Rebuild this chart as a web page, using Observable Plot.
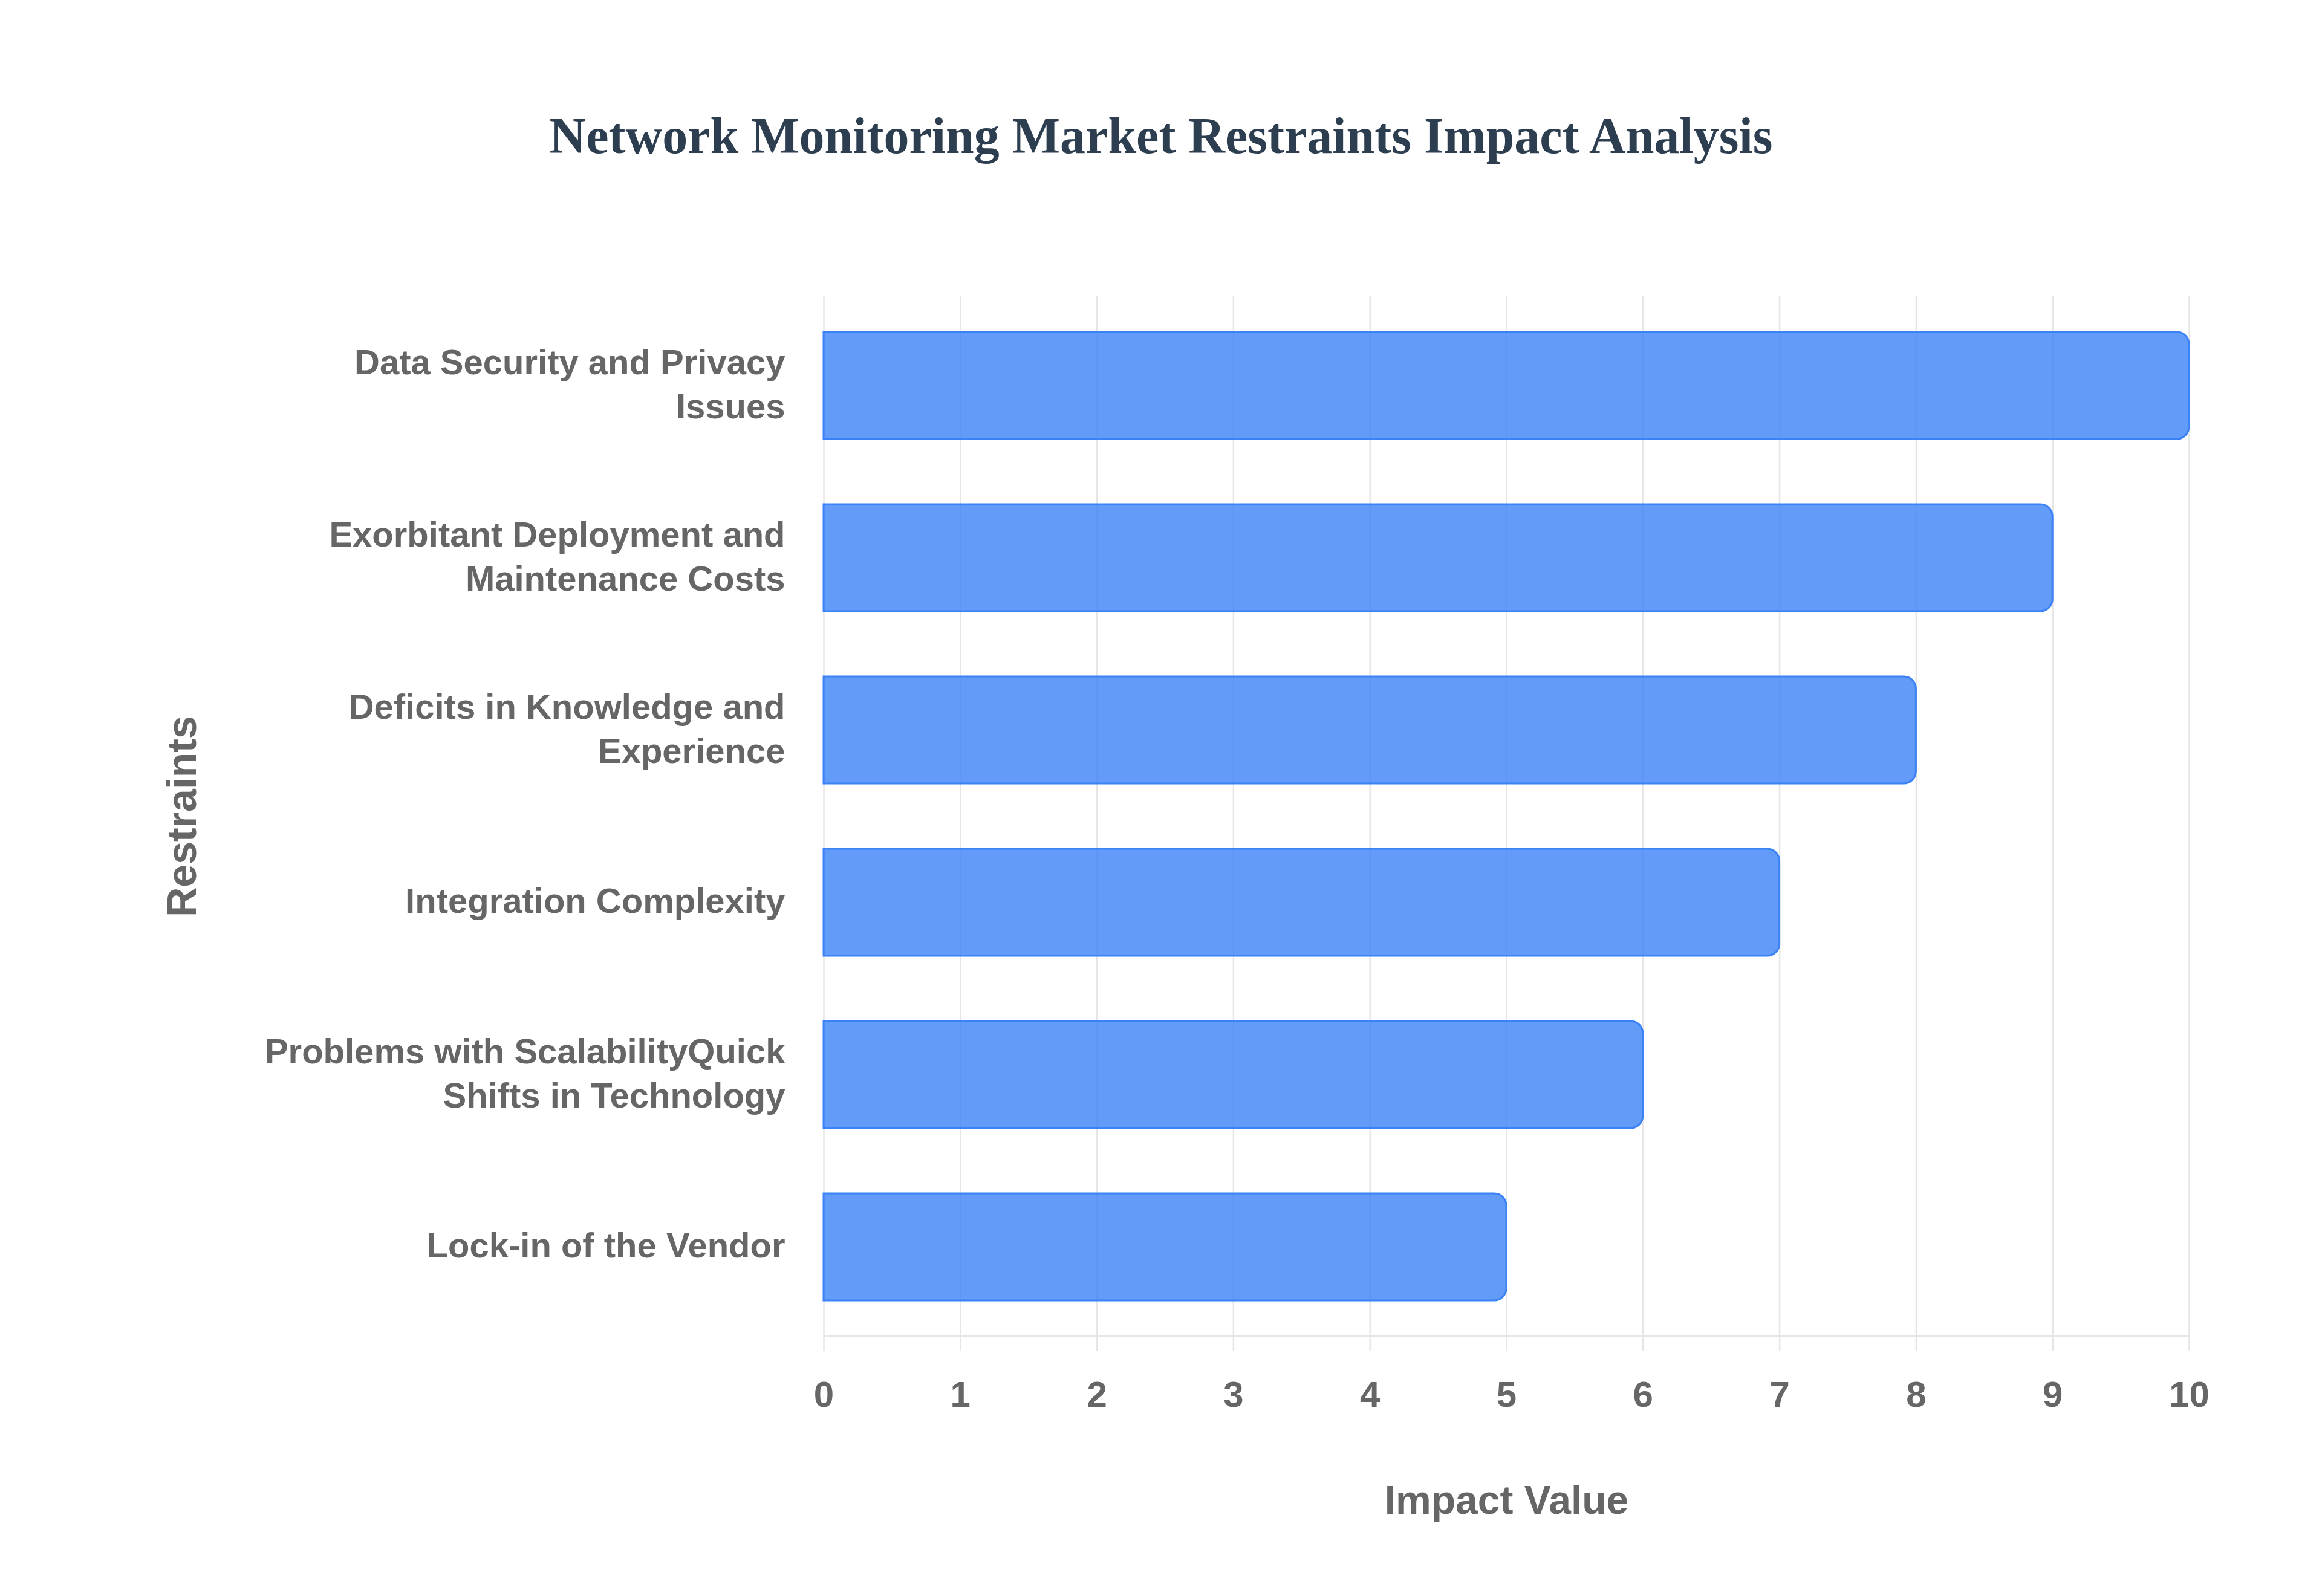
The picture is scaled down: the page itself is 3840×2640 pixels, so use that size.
<!DOCTYPE html>
<html>
<head>
<meta charset="utf-8">
<script src="https://cdn.jsdelivr.net/npm/d3@7"></script>
<script src="https://cdn.jsdelivr.net/npm/@observablehq/plot@0.6"></script>
<style>
  html, body { margin: 0; padding: 0; background: #ffffff; }
  #wrap { width: 3840px; }
  #title {
    height: 300px; box-sizing: border-box; padding-top: 183px;
    font-family: "Liberation Serif", "Times New Roman", serif; font-weight: bold;
    font-size: 84px; line-height: 1; color: #2c3e50; text-align: center;
  }
</style>
</head>
<body>
<div id="wrap">
  <div id="title">Network Monitoring Market Restraints Impact Analysis</div>
  <div id="chart"></div>
</div>
<script>
const restraints = [
  "Data Security and Privacy Issues",
  "Exorbitant Deployment and Maintenance Costs",
  "Deficits in Knowledge and Experience",
  "Integration Complexity",
  "Problems with ScalabilityQuick Shifts in Technology",
  "Lock-in of the Vendor"
];
const restraintLabels = [
  "Data Security and Privacy\nIssues",
  "Exorbitant Deployment and\nMaintenance Costs",
  "Deficits in Knowledge and\nExperience",
  "Integration Complexity",
  "Problems with ScalabilityQuick\nShifts in Technology",
  "Lock-in of the Vendor"
];
const impactValues = [10, 9, 8, 7, 6, 5];
const xTicks = [0, 1, 2, 3, 4, 5, 6, 7, 8, 9, 10];
const xLabel = "Impact Value";
const yLabel = "Restraints";

const data = restraints.map((name, i) => ({name, value: impactValues[i]}));
const labelOf = new Map(restraints.map((r, i) => [r, restraintLabels[i]]));

const gray = "#666666";
const gridColor = "#e6e6e6";
const sans = "'Liberation Sans', Arial, Helvetica, sans-serif";

const chart = Plot.plot({
  width: 3840,
  height: 2340,
  marginTop: 190,
  marginBottom: 430,
  marginLeft: 1362,
  marginRight: 220,
  style: {fontFamily: sans, background: "#ffffff", overflow: "visible"},
  x: {domain: [0, 10], ticks: xTicks},
  y: {domain: restraints, paddingInner: 0.378, paddingOuter: 0.2},
  marks: [
    Plot.gridX(xTicks, {stroke: gridColor, strokeOpacity: 1, strokeWidth: 2.5}),
    Plot.frame({anchor: "bottom", stroke: gridColor, strokeWidth: 3}),
    Plot.axisX(xTicks, {
      tickSize: 25, stroke: gridColor, strokeOpacity: 1, strokeWidth: 2.5,
      tickPadding: 49, fontSize: 60, fontWeight: "bold", fill: gray,
      tickFormat: d => String(d), label: null
    }),
    Plot.axisY({
      tickSize: 0, tickPadding: 64, fontSize: 58, fontWeight: "bold", fill: gray,
      lineHeight: 1.26, dy: -6, tickFormat: d => labelOf.get(d), label: null
    }),
    Plot.barX(data, {
      x: "value", y: "name",
      fill: "#3b82f6", fillOpacity: 0.8,
      stroke: "#3b82f6", strokeWidth: 3,
      rx2: 20
    }),
    Plot.text([xLabel], {
      frameAnchor: "bottom", dy: 293, lineAnchor: "bottom", text: d => d,
      fontSize: 66, fontWeight: "bold", fill: gray
    }),
    Plot.text([yLabel], {
      frameAnchor: "left", dx: -1039, lineAnchor: "bottom", textAnchor: "middle",
      rotate: -90, text: d => d,
      fontSize: 68, fontWeight: "bold", fill: gray
    })
  ]
});
document.getElementById("chart").appendChild(chart);
</script>
</body>
</html>
